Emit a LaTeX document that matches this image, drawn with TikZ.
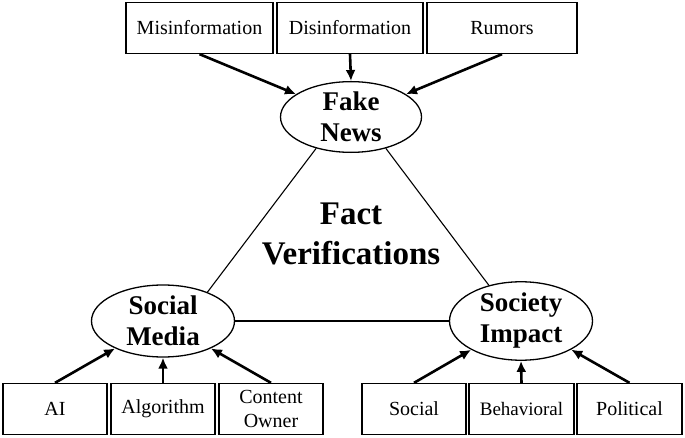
\documentclass[tikz,border=0pt]{standalone}
\usepackage{fontspec}
\setmainfont{Liberation Serif}
\usetikzlibrary{arrows.meta,shapes.geometric}
\tikzset{
  leaf/.style={draw, line width=1.3pt, minimum height=51pt, inner sep=0pt, align=center,
    font=\fontsize{20}{24}\selectfont},
  hub/.style={draw, ellipse, line width=1.3pt, inner sep=0pt, align=center,
    font=\fontsize{27}{31}\selectfont\bfseries},
  feed/.style={line width=2.6pt, -{Latex[length=11pt,width=10pt]}},
  link/.style={line width=1.1pt}
}
\begin{document}
\begin{tikzpicture}[x=1pt,y=-1pt]
\useasboundingbox (0,0) rectangle (685,438);
% top boxes
\node[leaf, minimum width=147pt] (mis) at (199.5,28) {Misinformation};
\node[leaf, minimum width=146pt] (dis) at (350,28) {Disinformation};
\node[leaf, minimum width=150pt] (rum) at (502,28) {Rumors};
% hubs
\node[hub, minimum width=141pt, minimum height=70pt] (fn) at (351,117) {Fake\\News};
\node[hub, minimum width=143pt, minimum height=72pt] (sm) at (163,321) {Social\\Media};
\node[hub, minimum width=143pt, minimum height=73pt] (si) at (521,321) {Society\\Impact};
% bottom boxes
\node[leaf, minimum width=104pt] (ai) at (55,409) {AI};
\node[leaf, minimum width=104pt] (alg) at (163,409) {Algorithm};
\node[leaf, minimum width=104pt] (co) at (271,409) {Content\\Owner};
\node[leaf, minimum width=104pt] (soc) at (414,409) {Social};
\node[leaf, minimum width=105pt, font=\fontsize{19}{23}\selectfont] (beh) at (521.5,409) {Behavioral};
\node[leaf, minimum width=105pt] (pol) at (629.5,409) {Political};
% centre
\node[align=center, font=\fontsize{33}{40}\selectfont\bfseries] (fv) at (351,234) {Fact\\Verifications};
% arrows
\draw[feed] (mis.south) -- (fn);
\draw[feed] (dis.south) -- (fn.north);
\draw[feed] (rum.south) -- (fn);
\draw[feed] (ai.north) -- (sm);
\draw[feed] (alg.north) -- (sm.south);
\draw[feed] (co.north) -- (sm);
\draw[feed] (soc.north) -- (si);
\draw[feed] (beh.north) -- (si.south);
\draw[feed] (pol.north) -- (si);
% triangle
\draw[link] (fn.222) -- (sm.33);
\draw[link] (fn.318) -- (si.132);
\draw[link] (sm.east) -- (si.west);
\end{tikzpicture}
\end{document}
